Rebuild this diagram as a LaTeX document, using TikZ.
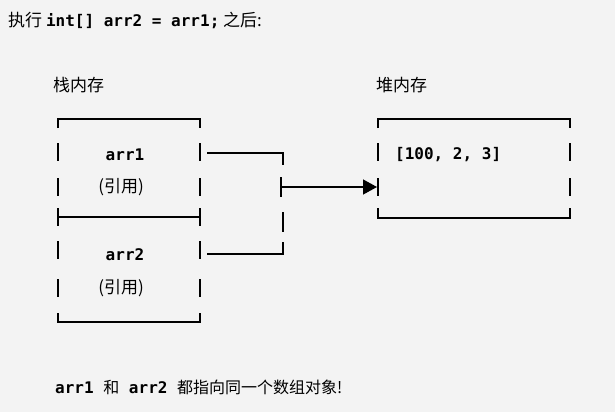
\documentclass[tikz,border=0pt]{standalone}
\usepackage{fontspec}
\setmainfont{Noto Sans CJK SC}
\setmonofont{DejaVu Sans Mono}
\usetikzlibrary{arrows.meta}
\definecolor{bg}{HTML}{F3F3F3}
\tikzset{
  txt/.style={anchor=west,inner sep=0pt,font=\fontsize{17}{20}\selectfont},
  code/.style={txt,font=\fontsize{16}{20}\selectfont\ttfamily\bfseries},
  box/.style={line width=1.3pt}
}
\begin{document}
\begin{tikzpicture}[x=1pt,y=-1pt]
\fill[bg] (0,0) rectangle (615,412);
\useasboundingbox (0,0) rectangle (615,412);
% titles
\node[txt] (title) at (8,20) {执行 {\ttfamily\bfseries\fontsize{16}{20}\selectfont int[] arr2 = arr1;} 之后:};
\node[txt] (stack) at (53,85) {栈内存};
\node[txt] (heap) at (376,85) {堆内存};
% stack frames
\node[code,anchor=center] (a1) at (125,155) {arr1};
\node[txt,anchor=center] (r1) at (121,187) {(引用)};
\node[code,anchor=center] (a2) at (125,255) {arr2};
\node[txt,anchor=center] (r2) at (121,288) {(引用)};
\draw[box] (58,128) |- (200,119) -- (200,128);
\draw[box] (58,208) |- (200,217) -- (200,208);
\draw[box] (58,217) -- (58,226) (200,217) -- (200,226);
\draw[box] (58,313) |- (200,322) -- (200,313);
\foreach \y in {143,178,241,279} {
  \draw[box] (58,\y) -- ++(0,18);
  \draw[box] (200,\y) -- ++(0,18);
}
% heap object
\node[code] (vals) at (395,155) {[100, 2, 3]};
\draw[box] (378,128) |- (570,119) -- (570,128);
\draw[box] (378,208) |- (570,218) -- (570,208);
\foreach \y in {143,178} {
  \draw[box] (378,\y) -- ++(0,18);
  \draw[box] (570,\y) -- ++(0,18);
}
% references
\coordinate (j1) at (283,153);
\coordinate (j2) at (283,254);
\coordinate (hub) at (281,187);
\coordinate (tgt) at (377,187);
\draw[box] (207,153) -- (j1) -- ++(0,12);
\draw[box] (207,254) -- (j2) -- ++(0,-12);
\draw[box] (281,177) -- (281,197) (283,212) -- (283,232);
\draw[box,-{Triangle[length=14pt,width=15pt]}] (hub) -- (tgt);
\node[code] (note) at (55,387) {arr1 \textmd{\rmfamily 和} arr2 \textmd{\rmfamily 都指向同一个数组对象!}};
\end{tikzpicture}
\end{document}
